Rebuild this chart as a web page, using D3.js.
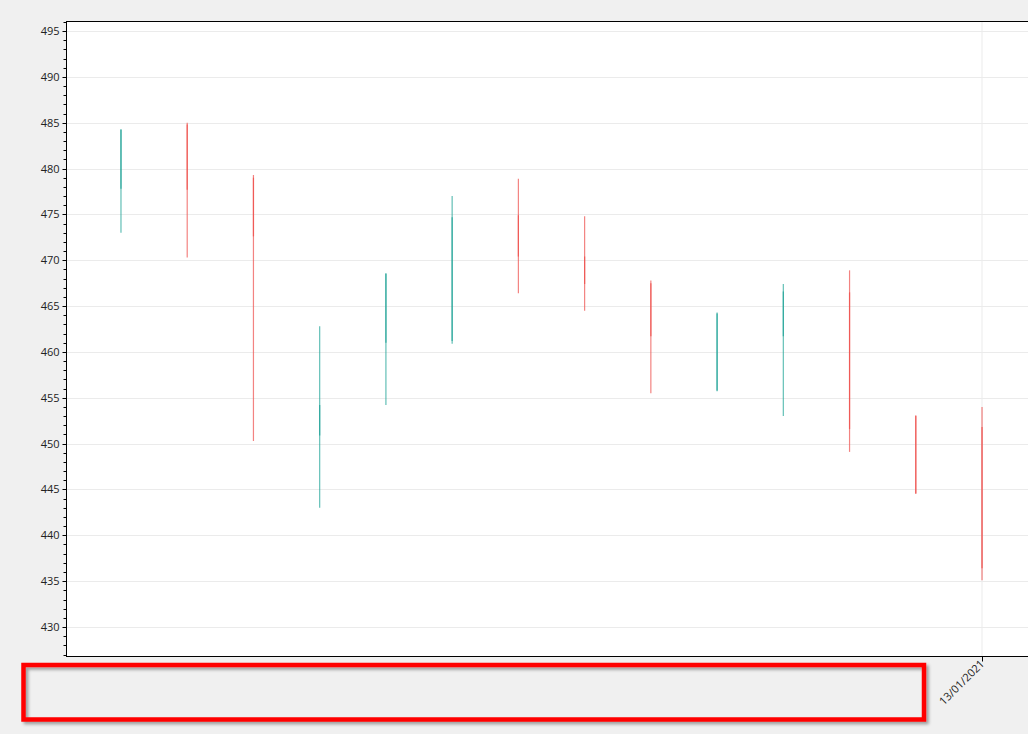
<!DOCTYPE html>
<html>
<head>
<meta charset="utf-8">
<script src="https://cdn.jsdelivr.net/npm/d3@7"></script>
<style>
  html, body { margin: 0; padding: 0; background: #f0f0f0; overflow: hidden; }
  svg { display: block; }
</style>
</head>
<body>
<svg id="chart" width="1028" height="734"></svg>
<script>
// ---- data ----
const dates = ["23/12/2020","24/12/2020","28/12/2020","29/12/2020","30/12/2020","31/12/2020",
               "04/01/2021","05/01/2021","06/01/2021","07/01/2021","08/01/2021","11/01/2021",
               "12/01/2021","13/01/2021"];
const open  = [477.8, 484.8, 479.0, 450.9, 461.0, 461.2, 474.9, 470.4, 467.5, 455.8, 461.7, 466.5, 453.0, 451.8];
const high  = [484.3, 485.0, 479.3, 462.8, 468.6, 477.0, 478.9, 474.8, 467.8, 464.3, 467.4, 468.9, 453.1, 454.0];
const low   = [473.0, 470.3, 450.3, 443.0, 454.2, 460.9, 466.4, 464.5, 455.5, 455.7, 453.0, 449.1, 444.5, 435.1];
const close = [484.2, 477.7, 472.6, 454.2, 468.5, 474.7, 470.4, 467.4, 461.7, 464.2, 466.6, 451.6, 444.6, 436.4];
const yTicks = [430, 435, 440, 445, 450, 455, 460, 465, 470, 475, 480, 485, 490, 495];
const xTickLabels = ["13/01/2021"];

const upColor = "#26a69a", downColor = "#ef5350";

const svg = d3.select("#chart");
const L = 66, T = 21, B = 656, R = 1037;

// defs: shadow
const defs = svg.append("defs");
const f = defs.append("filter").attr("id", "shadow").attr("x", "-5%").attr("y", "-30%").attr("width", "110%").attr("height", "160%");
f.append("feDropShadow").attr("dx", 2.5).attr("dy", 2.5).attr("stdDeviation", 1.5).attr("flood-color", "#000").attr("flood-opacity", 0.35);

// plot background
svg.append("rect").attr("x", L).attr("y", T).attr("width", R - L).attr("height", B - T).attr("fill", "#fff");

const x = d3.scaleLinear().domain([-0.83, dates.length - 1 + 0.83]).range([L, R]);
const y = d3.scaleLinear().domain([426.84, 496.09]).range([B, T]);

// horizontal gridlines
svg.append("g").selectAll("line").data(yTicks).join("line")
  .attr("x1", L).attr("x2", R)
  .attr("y1", d => Math.round(y(d)) + 0.5).attr("y2", d => Math.round(y(d)) + 0.5)
  .attr("stroke", "#ebebeb").attr("stroke-width", 1);

// vertical gridlines at labelled ticks
svg.append("g").selectAll("line").data(xTickLabels).join("line")
  .attr("x1", d => x(dates.indexOf(d))).attr("x2", d => x(dates.indexOf(d)))
  .attr("y1", T).attr("y2", B)
  .attr("stroke", "#ebebeb").attr("stroke-width", 1);

// candles
const idx = d3.range(dates.length);
const cg = svg.append("g");
cg.selectAll("line.wick").data(idx).join("line")
  .attr("class", "wick")
  .attr("x1", i => x(i)).attr("x2", i => x(i))
  .attr("y1", i => y(high[i])).attr("y2", i => y(low[i]))
  .attr("stroke", i => close[i] >= open[i] ? upColor : downColor)
  .attr("stroke-opacity", 0.72)
  .attr("stroke-width", 1.2);
cg.selectAll("line.body").data(idx).join("line")
  .attr("class", "body")
  .attr("x1", i => x(i)).attr("x2", i => x(i))
  .attr("y1", i => y(Math.max(open[i], close[i]))).attr("y2", i => y(Math.min(open[i], close[i])))
  .attr("stroke", i => close[i] >= open[i] ? upColor : downColor)
  .attr("stroke-opacity", 0.85)
  .attr("stroke-width", 1.2);

// y axis
const minor = d3.range(427, 497, 1).filter(v => v % 5 !== 0);
svg.append("g").selectAll("line").data(minor).join("line")
  .attr("x1", L - 2.5).attr("x2", L)
  .attr("y1", d => Math.round(y(d)) + 0.5).attr("y2", d => Math.round(y(d)) + 0.5)
  .attr("stroke", "#000");
const yAxis = d3.axisLeft(y).tickValues(yTicks).tickSize(4).tickPadding(3).tickFormat(d3.format("d"));
const yg = svg.append("g").attr("transform", `translate(${L + 0.5},0)`).call(yAxis);
yg.select(".domain").remove();
yg.selectAll(".tick").attr("transform", d => `translate(0,${Math.round(y(d)) + 0.5})`);
yg.selectAll("text").attr("font-family", "'Open Sans', 'Noto Sans', sans-serif").attr("font-size", 11).attr("fill", "#222");

// x axis
const xg = svg.append("g").attr("transform", `translate(0,${B + 0.5})`);
xg.selectAll("line").data(xTickLabels).join("line")
  .attr("x1", d => Math.round(x(dates.indexOf(d))) + 0.5).attr("x2", d => Math.round(x(dates.indexOf(d))) + 0.5)
  .attr("y1", 0).attr("y2", 5).attr("stroke", "#000");
xg.selectAll("text").data(xTickLabels).join("text")
  .attr("transform", d => `translate(${x(dates.indexOf(d)) + 3},${8}) rotate(-45)`)
  .attr("text-anchor", "end")
  .attr("font-family", "'Open Sans', 'Noto Sans', sans-serif").attr("font-size", 11).attr("fill", "#222")
  .text(d => d);

// frame lines: left, top, bottom
svg.append("line").attr("x1", L + 0.5).attr("x2", L + 0.5).attr("y1", T).attr("y2", B + 1).attr("stroke", "#000");
svg.append("line").attr("x1", L).attr("x2", R).attr("y1", T + 0.5).attr("y2", T + 0.5).attr("stroke", "#000");
svg.append("line").attr("x1", L).attr("x2", R).attr("y1", B + 0.5).attr("y2", B + 0.5).attr("stroke", "#000");

// red highlight box
svg.append("rect").attr("x", 23.5).attr("y", 665).attr("width", 900.5).attr("height", 54.5)
  .attr("fill", "none").attr("stroke", "#ff0000").attr("stroke-width", 4.5)
  .attr("filter", "url(#shadow)");
</script>
</body>
</html>
